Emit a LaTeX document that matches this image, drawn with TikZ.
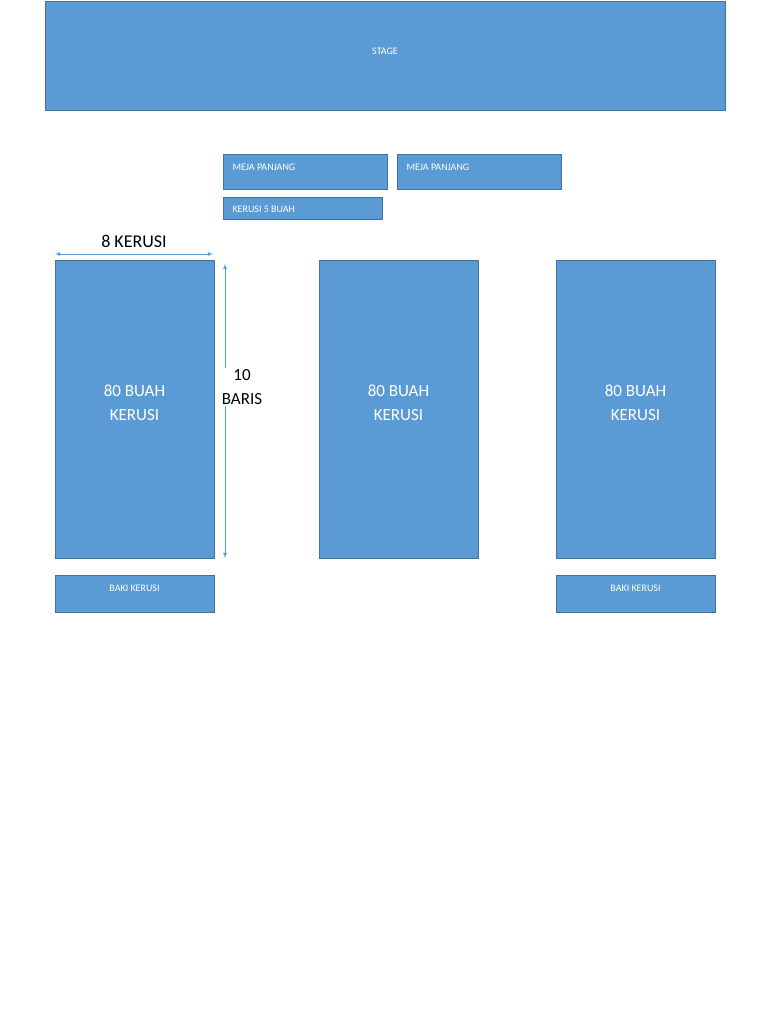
\documentclass[tikz,border=0pt]{standalone}
\usepackage{fontspec}
\setmainfont{Carlito}
\definecolor{fillb}{HTML}{5B9BD5}
\definecolor{edgeb}{HTML}{41719C}
\begin{document}
\begin{tikzpicture}[x=1pt,y=-1pt,
  box/.style={draw=edgeb,fill=fillb,line width=1pt},
  wt/.style={text=white,font=\fontsize{10}{12}\selectfont},
  bt/.style={text=white,font=\fontsize{17}{24}\selectfont,align=center},
  dim/.style={draw=fillb,line width=0.8pt,<->,>=latex}]
\useasboundingbox (0,0) rectangle (768,1024);
\draw[box] (45,2) rectangle (725,111);
\node[wt] (stage) at (385,51) {STAGE};
\draw[box] (223,155) rectangle (387,190);
\node[wt,anchor=north west] (m1) at (229,160) {MEJA PANJANG};
\draw[box] (397,155) rectangle (561,190);
\node[wt,anchor=north west] (m2) at (403,160) {MEJA PANJANG};
\draw[box] (223,198) rectangle (382,220);
\node[wt,anchor=west] (k5) at (229,209.5) {KERUSI 5 BUAH};
\foreach \x/\n in {55/a,319/b,556/c}{
  \draw[box] (\x,260) rectangle (\x+159,558);
  \node[bt] (big\n) at (\x+79.5,403) {80 BUAH\\KERUSI};
}
\foreach \x/\n in {55/a,556/c}{
  \draw[box] (\x,575) rectangle (\x+159,612);
  \node[wt] (baki\n) at (\x+79.5,588) {BAKI KERUSI};
}
\coordinate (h1) at (55,254); \coordinate (h2) at (213,254);
\draw[dim] (h1) -- (h2);
\node[font=\fontsize{18}{22}\selectfont] (lk) at (134,241) {8 KERUSI};
\coordinate (v1) at (225,264); \coordinate (v2) at (225,558);
\draw[dim] (v1) -- (v2);
\node[font=\fontsize{17}{24}\selectfont,align=center,fill=white,inner sep=1pt] (lb) at (242,387) {10\\BARIS};
\end{tikzpicture}
\end{document}
